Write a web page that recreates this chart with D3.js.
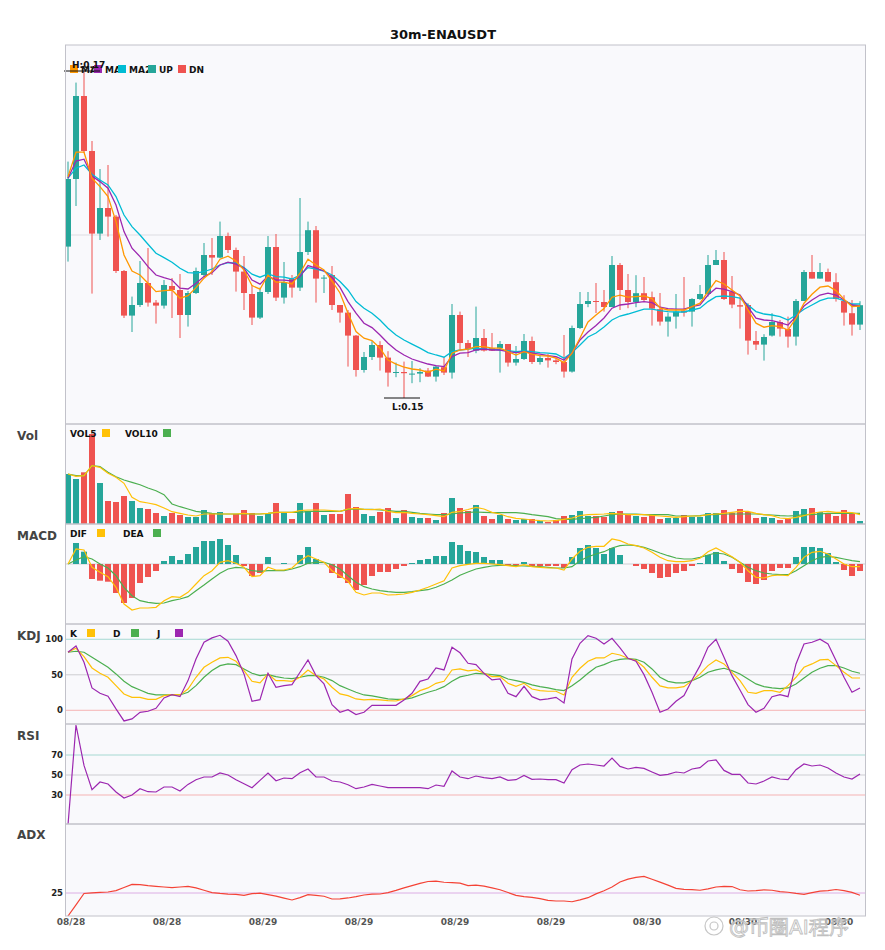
<!DOCTYPE html>
<html>
<head>
<meta charset="utf-8">
<script src="https://cdn.jsdelivr.net/npm/d3@7"></script>
<style>
  body { margin: 0; background: #fff; }
  svg text { font-family: "DejaVu Sans", sans-serif; }
</style>
</head>
<body>
<svg id="chart"></svg>
<script>
// 30m ENAUSDT candles
const open = [0.15942,0.16280,0.16695,0.16420,0.16007,0.16135,0.16092,0.15820,0.15597,0.15650,
  0.15760,0.15662,0.15647,0.15745,0.15725,0.15600,0.15710,0.15800,0.15900,0.15887,
  0.15995,0.15925,0.15817,0.15705,0.15587,0.15715,0.15940,0.15687,0.15780,0.15737,
  0.15915,0.16024,0.15782,0.15800,0.15650,0.15612,0.15497,0.15325,0.15390,0.15450,
  0.15387,0.15312,0.15315,0.15303,0.15307,0.15322,0.15292,0.15339,0.15312,0.15600,
  0.15460,0.15422,0.15485,0.15434,0.15434,0.15455,0.15362,0.15380,0.15470,0.15365,
  0.15385,0.15373,0.15365,0.15317,0.15535,0.15655,0.15670,0.15665,0.15640,0.15850,
  0.15725,0.15665,0.15709,0.15689,0.15629,0.15567,0.15592,0.15622,0.15617,0.15680,
  0.15705,0.15850,0.15875,0.15717,0.15649,0.15650,0.15470,0.15452,0.15497,0.15565,
  0.15530,0.15492,0.15670,0.15815,0.15782,0.15815,0.15764,0.15670,0.15609,0.15552]
const high = [0.16367,0.16762,0.16820,0.16470,0.16330,0.16350,0.16100,0.15825,0.15692,0.15870,
  0.15935,0.15675,0.15775,0.15785,0.15805,0.15720,0.15837,0.15960,0.15985,0.16067,
  0.16012,0.15937,0.15895,0.15750,0.15737,0.15995,0.16005,0.15865,0.15800,0.16185,
  0.16067,0.16045,0.15800,0.15845,0.15650,0.15625,0.15500,0.15415,0.15469,0.15469,
  0.15419,0.15362,0.15367,0.15370,0.15334,0.15335,0.15347,0.15389,0.15655,0.15617,
  0.15475,0.15642,0.15530,0.15510,0.15470,0.15455,0.15445,0.15505,0.15492,0.15400,
  0.15405,0.15392,0.15500,0.15547,0.15715,0.15715,0.15760,0.15725,0.15895,0.15860,
  0.15805,0.15799,0.15790,0.15717,0.15710,0.15612,0.15705,0.15790,0.15684,0.15750,
  0.15900,0.15925,0.15915,0.15795,0.15692,0.15659,0.15520,0.15504,0.15609,0.15575,
  0.15592,0.15680,0.15825,0.15900,0.15860,0.15832,0.15809,0.15699,0.15675,0.15669]
const low = [0.15867,0.16145,0.16410,0.15707,0.15975,0.15992,0.15810,0.15585,0.15515,0.15640,
  0.15642,0.15557,0.15632,0.15585,0.15485,0.15542,0.15705,0.15792,0.15800,0.15884,
  0.15910,0.15717,0.15625,0.15550,0.15580,0.15705,0.15670,0.15657,0.15687,0.15720,
  0.15900,0.15662,0.15710,0.15625,0.15562,0.15342,0.15292,0.15312,0.15375,0.15322,
  0.15242,0.15289,0.15185,0.15259,0.15264,0.15290,0.15267,0.15300,0.15282,0.15429,
  0.15390,0.15409,0.15417,0.15420,0.15312,0.15342,0.15347,0.15375,0.15355,0.15352,
  0.15337,0.15354,0.15287,0.15312,0.15530,0.15639,0.15610,0.15617,0.15640,0.15625,
  0.15634,0.15639,0.15667,0.15547,0.15547,0.15492,0.15532,0.15592,0.15542,0.15675,
  0.15692,0.15850,0.15675,0.15634,0.15532,0.15402,0.15425,0.15372,0.15492,0.15492,
  0.15437,0.15447,0.15670,0.15782,0.15782,0.15767,0.15667,0.15547,0.15497,0.15525]
const close = [0.16280,0.16695,0.16420,0.16007,0.16135,0.16092,0.15820,0.15597,0.15650,0.15760,
  0.15662,0.15647,0.15750,0.15725,0.15600,0.15710,0.15820,0.15900,0.15887,0.15995,
  0.15925,0.15817,0.15710,0.15587,0.15715,0.15940,0.15687,0.15765,0.15737,0.15915,
  0.16024,0.15782,0.15787,0.15650,0.15612,0.15497,0.15325,0.15390,0.15450,0.15387,
  0.15312,0.15315,0.15309,0.15307,0.15315,0.15292,0.15342,0.15312,0.15600,0.15460,
  0.15429,0.15485,0.15422,0.15422,0.15455,0.15362,0.15380,0.15470,0.15365,0.15385,
  0.15373,0.15365,0.15317,0.15535,0.15655,0.15670,0.15665,0.15640,0.15850,0.15725,
  0.15665,0.15709,0.15675,0.15632,0.15567,0.15592,0.15617,0.15612,0.15680,0.15705,
  0.15850,0.15875,0.15680,0.15652,0.15642,0.15472,0.15452,0.15490,0.15565,0.15532,
  0.15492,0.15670,0.15815,0.15782,0.15815,0.15767,0.15680,0.15612,0.15552,0.15649]

const ma5 = [0.16292,0.16414,0.16414,0.16284,0.16242,0.16192,0.16067,0.15900,0.15820,0.15800,
  0.15759,0.15717,0.15722,0.15725,0.15684,0.15697,0.15737,0.15784,0.15817,0.15879,
  0.15894,0.15870,0.15825,0.15747,0.15729,0.15800,0.15764,0.15764,0.15755,0.15809,
  0.15879,0.15850,0.15825,0.15770,0.15710,0.15609,0.15517,0.15484,0.15472,0.15434,
  0.15375,0.15354,0.15339,0.15330,0.15325,0.15314,0.15329,0.15320,0.15409,0.15425,
  0.15429,0.15442,0.15442,0.15434,0.15434,0.15417,0.15400,0.15417,0.15404,0.15397,
  0.15395,0.15384,0.15362,0.15409,0.15485,0.15565,0.15600,0.15632,0.15689,0.15699,
  0.15689,0.15692,0.15695,0.15682,0.15635,0.15625,0.15625,0.15625,0.15642,0.15659,
  0.15717,0.15772,0.15755,0.15725,0.15695,0.15625,0.15559,0.15539,0.15547,0.15542,
  0.15525,0.15584,0.15659,0.15704,0.15739,0.15745,0.15722,0.15679,0.15642,0.15645]
const ma10 = [0.16284,0.16370,0.16379,0.16295,0.16267,0.16234,0.16150,0.16017,0.15934,0.15892,
  0.15842,0.15800,0.15787,0.15775,0.15734,0.15730,0.15759,0.15792,0.15812,0.15850,
  0.15864,0.15854,0.15834,0.15775,0.15754,0.15795,0.15775,0.15774,0.15770,0.15792,
  0.15847,0.15834,0.15820,0.15788,0.15738,0.15667,0.15609,0.15559,0.15537,0.15500,
  0.15459,0.15425,0.15400,0.15380,0.15367,0.15355,0.15347,0.15342,0.15392,0.15409,
  0.15412,0.15425,0.15429,0.15425,0.15425,0.15417,0.15412,0.15417,0.15409,0.15404,
  0.15397,0.15392,0.15375,0.15409,0.15475,0.15515,0.15548,0.15585,0.15634,0.15650,
  0.15655,0.15662,0.15667,0.15662,0.15639,0.15632,0.15629,0.15629,0.15642,0.15650,
  0.15700,0.15734,0.15729,0.15717,0.15700,0.15639,0.15584,0.15575,0.15572,0.15562,
  0.15550,0.15592,0.15645,0.15675,0.15700,0.15709,0.15700,0.15675,0.15650,0.15645]
const ma20 = [0.16284,0.16334,0.16350,0.16304,0.16275,0.16250,0.16192,0.16100,0.16042,0.16000,
  0.15954,0.15909,0.15887,0.15864,0.15834,0.15812,0.15809,0.15817,0.15830,0.15850,
  0.15862,0.15859,0.15837,0.15804,0.15789,0.15805,0.15792,0.15789,0.15780,0.15800,
  0.15837,0.15830,0.15820,0.15800,0.15767,0.15725,0.15667,0.15634,0.15609,0.15575,
  0.15534,0.15500,0.15475,0.15454,0.15434,0.15412,0.15400,0.15389,0.15417,0.15425,
  0.15429,0.15434,0.15430,0.15429,0.15425,0.15422,0.15417,0.15420,0.15417,0.15412,
  0.15409,0.15405,0.15384,0.15412,0.15450,0.15490,0.15510,0.15540,0.15575,0.15595,
  0.15605,0.15617,0.15629,0.15629,0.15622,0.15617,0.15615,0.15615,0.15625,0.15634,
  0.15667,0.15692,0.15695,0.15692,0.15684,0.15650,0.15617,0.15605,0.15600,0.15592,
  0.15575,0.15600,0.15629,0.15650,0.15672,0.15684,0.15684,0.15672,0.15655,0.15655]

const volume = [50,45,51.7,90,41,23,22,28,23,16, 15,11,8,11,9,7,7,14,11,12,
  6,10,14,11,8,10,21,11,5,21, 13,21,9,10,10,30,17,10,8,12,
  16,6,14,7,6,6,4,11,26,16, 13,19,8,5,9,5,4,5,5,3,
  2,4,8,9,13,8,8,7,12,13, 10,8,7,9,5,6,6,9,7,7,
  11,11,14,11,15,12,6,7,6,4, 5,13,15,16,12,11,8,14,10,3]
const vol5 = [50,47.7,48.3,58.3,56.7,50.7,46.7,40.7,26.7,22.3, 21,19.3,16,12.3,10.7,9,8,10,10,10,
  10,10,10.7,10,10,10.7,11.7,11.7,11.7,13.3, 14,14,14,13.3,12.7,15,15.7,14.7,14.3,15,
  12.7,11.3,11.7,10.7,10,9.3,8.3,7.3,11.7,12.7, 14.5,16.7,15,11.7,10,7.3,5.7,5,4,3.3,
  3,3.3,4.7,6,8.3,9.3,9.7,10,10.7,10, 9.3,9.3,9.3,8.7,8,7.3,6.7,7.3,8,8,
  9.3,10,10.7,11.7,12.7,12.7,10.7,9.3,8.3,6, 5.3,6.7,8.3,10.7,12,12.7,11.7,11.7,11.3,9.3]
const vol10 = [50,48.3,48.3,58.3,57.3,51.7,47.3,44,41.7,39.3, 36,33.3,29.3,20,17.3,15,12.7,11.7,10.7,10,
  10,10,10,10,10,10.7,11.7,11.7,11.7,11.7, 12.7,12.7,12.7,12.7,12.7,14.7,15,14.7,14.7,14,
  13.3,12.7,12.7,11.7,10.7,10,9.3,9.3,10,11, 11.7,12,11.7,11.3,11.3,11.3,11.3,10.7,9.3,8.3,
  7.3,5.3,4.7,4.7,5.3,6,6.7,8,9.3,10, 10,10,9.3,9.3,9.3,9.3,8,8,8,8.3,
  9.3,9.3,10,10,10,10,10,9.3,9,8.3, 8,8.3,9.3,9.3,10,10.7,10.7,10.7,10.7,10.7]

// MACD values in units of 1e-5
const macdDif = [0,15,14,-3.3,-8.3,-12.7,-23.3,-40,-46,-44, -44,-43.3,-36.7,-32.7,-33.3,-28.3,-20,-11.7,-6.7,1.7,
  3.3,0.7,-3.3,-12.7,-11.7,-3.3,-6,-6,-4,3.3, 8.3,5,1.7,-6.7,-11.7,-17.3,-28.3,-31,-29,-29,
  -31,-30.7,-30,-28.3,-26,-23.3,-20,-16.7,-4,-1.7, -0.3,0.7,0.7,0,-0.7,-1.7,-2.7,-0.7,-2.7,-3.3,
  -4,-4,-6,5,12.7,16.7,17.7,17.7,25,23.3, 20,18.3,16,11.7,6.7,3.3,2.3,2.3,3.3,5.7,
  12.3,16,11.7,7.3,1.7,-6.7,-13.3,-14,-11.7,-11, -11.7,-3.3,6.7,11.7,12.7,10,5,0,-2.7,-2.7]
const macdDea = [0,4,7.3,5,0,-4,-11.7,-23.3,-31.7,-36.7, -38.3,-39.3,-39,-36.7,-35,-32.7,-26.7,-21,-15,-9.3,
  -5,-3.3,-4,-6.7,-7.3,-6.7,-6.7,-6.7,-5,-2.7, 0.7,1.7,1.7,-0.7,-5,-11.7,-18.3,-22.7,-25,-26.7,
  -27.7,-28.3,-28.3,-27.7,-26.7,-25.7,-23.3,-20,-16,-11.3, -8,-5,-3.3,-2,-1.3,-1.3,-1.7,-2,-2.3,-2.7,
  -3.3,-4,-4,-2.7,3.3,7.3,10,12.3,16,18.3, 19,18.3,16.7,14,11,8.3,6,5,5,6.7,
  9,11,10,6.7,1.7,-3.3,-6.7,-9,-10,-10.7, -10.7,-6.7,-1.7,3.3,6.7,7.7,6.7,5,3.3,2.3]
const macdHist = [0,21,12.3,-15,-16.7,-17.7,-29,-39,-34,-19, -13,-7,3,8,4,10,17,23,23,25,
  19,9,-2,-12,-9,7,0,1,0,9, 17,5,0,-9,-14,-19,-26,-21,-12,-8,
  -8,-5,-2,1,4,5,8,8,22,19, 13,12,7,4,4,-1.3,-2,2,-2,-2,
  -2,-2,-4,7,16,19,16,10,16,9, 0,-2,-5,-9,-14,-13,-9,-7,-2,1,
  9,12,3,-5,-9,-18,-20,-16,-7,-4, -4,7,17,17,16,11,2,-6,-12,-7]

const kdjK = [81.7,87.3,75.6,59.6,52.1,46.5,34.7,23,18.3,18.3, 15.5,15.5,20.7,22.1,21.6,30,46.5,60.6,67.6,73.7,
  74.6,69,55.9,40.8,38.5,51.2,41.8,41.8,40.8,46.5, 56.8,48.8,44.1,32.4,23,20.7,16,14.6,15.5,14.6,
  13.6,13.1,16,20.7,27.7,31.5,38,40.8,56.8,58.2, 55.4,56.8,52.1,47.4,47.4,38,33.8,38,30,27.7,
  26.8,26.8,21.6,46.5,59.2,69,73.7,73.7,80.3,77.9, 73.2,70,60.6,46.5,34.3,31.5,31.5,33.3,41.8,51.2,
  62.9,70.9,65.3,53.5,41.8,25.4,23.9,27.7,27.7,25.4, 34.7,46.5,60.6,65.3,70.9,71.8,62.9,53.5,45.5,45.5]
const kdjD = [81.7,83.1,81.7,74.6,67.6,60.6,51.2,40.8,33.3,28.6, 23.9,21.6,21.6,21.6,21.6,25.4,34.7,46.5,55.9,62.9,
  65.3,64.3,58.2,52.1,48.8,50.2,47.4,45.5,44.6,46.5, 48.8,48.8,46.5,41.8,34.7,30,25.4,21.6,20.2,18.3,
  16,15.5,15.5,17.4,21.6,25.4,28.6,33.3,40.8,47, 49.3,52.1,51.2,50.2,48.8,44.1,41.8,39.4,35.7,33.3,
  31.5,29.1,27.7,34.7,42.7,52.1,60.6,64.3,69,71.8, 72.8,71.8,67.6,58.2,46.5,40.8,38.5,38.5,41.8,46.5,
  53.5,56.8,59.2,55.9,51.2,44.1,37.1,33.3,31.5,30.5, 31.5,37.1,45.5,53.5,59.2,62.9,62.9,59.6,54.9,52.1]
const kdjJ = [81.7,90.6,67.6,31.5,23.9,19.7,1.9,-15,-12.2,-2.8, -1.4,2.8,17.4,22.1,19.2,41.8,72.3,95.8,101.9,105.6,
  97.2,77,51.2,12.7,15,52.1,32.4,34.7,36.2,53.5, 70.9,48.8,37.1,8,-2.8,0.9,-6.1,-2.8,7,7,
  7,7,14.6,23.9,40.8,44.1,59.6,56.8,88.7,81, 66.2,64.3,52.1,42.7,44.1,23.9,19.2,33.8,19.2,14.6,
  16,18.3,10.3,72.3,94.4,105.2,101.4,93.4,101.4,87.8, 73.2,69,50.2,25.4,-2.8,1.9,12.7,20.7,42.7,62.9,
  88.7,100,74.6,48.8,28.6,8,-2.8,2.8,19.2,22.1, 19.2,65.3,93.4,95.8,100,93.4,70,46.5,25.4,31.5]

const rsi = [0,100,59.6,35.3,43,41,33,27,30,36.3, 33.3,33,38,38,34,40.6,45.3,48,48,52,
  50,45.3,41.3,37.3,44.6,52,44.3,47,46.3,52.3, 56,48,48,44,43,40.3,36.3,38,40.6,39,
  37.3,37.3,37.3,37.3,37.3,36.3,40,38.6,54,48, 46.3,49,47.3,46.3,48,44.6,45.3,49.6,45.6,46,
  45.3,45.3,42,55.3,60,61,60,59,67,58.6, 56,57.6,56.6,53,49.6,50.6,53,52,56,57.3,
  64,65,54.6,50.6,50.6,42,41,44,48,46, 45.3,55.3,61,59,60,57,52,48,46,51]

const adx = [0,12,24.5,25.2,25.6,26.1,27.6,31,34.4,34.1, 33,32.2,31.5,30.8,31.5,32.2,30.5,28,25.4,24.5,
  23.8,23.5,22.5,24.3,24.8,23.2,21.6,19.5,17.4,20, 23.2,22.5,21.5,18.5,18.6,19.6,21,22.8,23.7,23.9,
  25.5,27.8,30.5,33,35.5,37.5,37.8,36.7,36.3,35.8, 33,33.5,32.5,30.6,28.5,25.5,22.5,21,20.3,18.8,
  17,16.3,16.3,15.5,17.5,19.9,24,27.5,31.5,37, 40,42,43.1,40,36.8,33.5,30,29,28.6,28,
  29.5,31.5,32.3,32,28.5,27.2,27.5,28.5,28,26.4, 25.8,24.5,23.6,25.5,27,27.5,28.8,27.5,25.7,22.5]

const xTickIdx = [0, 12, 24, 36, 48, 60, 72, 84, 96]
const xTickLabels = ['08/28', '08/28', '08/29', '08/29', '08/29', '08/29', '08/30', '08/30', '08/30']
const priceGrid = [0.16]
const kdjTicks = [100, 50, 0]
const rsiTicks = [70, 50, 30]
const adxTicks = [25]

const UP = '#26a69a', DN = '#ef5350'
const YEL = '#ffc107', GRN = '#4caf50', PUR = '#9c27b0'

const W = 885, H = 950
const left = 65.5, right = 865.5
const panels = {
  main: {top: 45, bottom: 424},
  vol: {top: 424, bottom: 524},
  macd: {top: 524, bottom: 624},
  kdj: {top: 624, bottom: 724},
  rsi: {top: 724, bottom: 824},
  adx: {top: 824, bottom: 916}
}
const n = close.length
const idx = d3.range(n)
const x = d3.scaleLinear().domain([0, n - 1]).range([68, 860])
const bw = 6

const yPrice = d3.scaleLinear().domain([0.15055, 0.1695]).range([424, 45])
const yVol = d3.scaleLinear().domain([0, 100]).range([524, 424])
const yMacd = d3.scaleLinear().domain([-60, 40]).range([624, 524])
const yKdj = d3.scaleLinear().domain([-19.3, 121.5]).range([724, 624])
const yRsi = d3.scaleLinear().domain([0, 100]).range([825, 725])
const yAdx = d3.scaleLinear().domain([0, 100]).range([916, 824])

const svg = d3.select('#chart').attr('width', W).attr('height', H)
svg.append('rect').attr('width', W).attr('height', H).attr('fill', '#fff')

svg.append('text').attr('x', 443).attr('y', 39).attr('text-anchor', 'middle')
   .attr('font-size', 13).attr('font-weight', 'bold').attr('fill', '#111').text('30m-ENAUSDT')

const defs = svg.append('defs')
const g = {}
Object.entries(panels).forEach(([k, p]) => {
  svg.append('rect').attr('x', left).attr('y', p.top).attr('width', right - left)
     .attr('height', p.bottom - p.top).attr('fill', '#f9f9fc')
  defs.append('clipPath').attr('id', 'clip-' + k).append('rect')
      .attr('x', left).attr('y', p.top).attr('width', right - left).attr('height', p.bottom - p.top)
  g[k] = svg.append('g').attr('clip-path', 'url(#clip-' + k + ')')
})

function hline(grp, y, color) {
  grp.append('line').attr('x1', left).attr('x2', right).attr('y1', y).attr('y2', y)
     .attr('stroke', color).attr('stroke-width', 1)
}
function drawLine(grp, values, yScale, color, w) {
  grp.append('path').datum(values)
     .attr('fill', 'none').attr('stroke', color).attr('stroke-width', w || 1.3)
     .attr('d', d3.line().x((d, i) => x(i)).y(d => yScale(d)))
}
function tickLabels(values, yScale) {
  values.forEach(v => {
    svg.append('text').attr('x', 63).attr('y', yScale(v) + 3).attr('text-anchor', 'end')
       .attr('font-size', 8.5).attr('font-weight', 'bold').attr('fill', '#222').text(v)
  })
}

// price panel
priceGrid.forEach(v => hline(g.main, yPrice(v), '#dddde2'))
const isUp = i => close[i] >= open[i]
g.main.selectAll('line.wick').data(idx).join('line')
  .attr('x1', i => x(i)).attr('x2', i => x(i))
  .attr('y1', i => yPrice(high[i])).attr('y2', i => yPrice(low[i]))
  .attr('stroke', i => isUp(i) ? UP : DN).attr('stroke-width', 1)
g.main.selectAll('rect.body').data(idx).join('rect')
  .attr('x', i => x(i) - bw / 2).attr('width', bw)
  .attr('y', i => yPrice(Math.max(open[i], close[i])))
  .attr('height', i => Math.max(1, Math.abs(yPrice(open[i]) - yPrice(close[i]))))
  .attr('fill', i => isUp(i) ? UP : DN)
drawLine(g.main, ma20, yPrice, '#00bcd4')
drawLine(g.main, ma10, yPrice, PUR)
drawLine(g.main, ma5, yPrice, '#ff9800')

// main legend: each label is cut off where the next swatch starts
const mainLegend = [
  {label: 'MA5', color: '#ff9800', x: 70}, {label: 'MA10', color: PUR, x: 94},
  {label: 'MA20', color: '#00bcd4', x: 118}, {label: 'UP', color: UP, x: 148},
  {label: 'DN', color: DN, x: 178}
]
mainLegend.forEach((d, k) => {
  const next = mainLegend[k + 1]
  const tx = d.x + 11
  const cw = next ? next.x - tx : 40
  defs.append('clipPath').attr('id', 'leg-' + k).append('rect')
      .attr('x', tx).attr('y', 58).attr('width', cw).attr('height', 20)
  svg.append('rect').attr('x', d.x).attr('y', 65).attr('width', 8).attr('height', 8).attr('fill', d.color)
  svg.append('text').attr('x', tx).attr('y', 72.5).attr('font-size', 9)
     .attr('clip-path', 'url(#leg-' + k + ')')
     .attr('font-weight', 'bold').attr('fill', '#111').text(d.label)
})

// high / low markers
const hi = d3.maxIndex(high), lo = d3.minIndex(low)
svg.append('line').attr('x1', x(hi) - 20).attr('x2', x(hi) + 16)
   .attr('y1', yPrice(high[hi])).attr('y2', yPrice(high[hi])).attr('stroke', '#111').attr('stroke-width', 1)
svg.append('text').attr('x', x(hi) - 12).attr('y', yPrice(high[hi]) - 3).attr('font-size', 9)
   .attr('font-weight', 'bold').attr('fill', '#111').text('H:' + high[hi].toFixed(2))
svg.append('line').attr('x1', x(lo) - 20).attr('x2', x(lo) + 16)
   .attr('y1', yPrice(low[lo])).attr('y2', yPrice(low[lo])).attr('stroke', '#111').attr('stroke-width', 1)
svg.append('text').attr('x', x(lo) - 12).attr('y', yPrice(low[lo]) + 12).attr('font-size', 9)
   .attr('font-weight', 'bold').attr('fill', '#111').text('L:' + low[lo].toFixed(2))

// volume
g.vol.selectAll('rect').data(idx).join('rect')
  .attr('x', i => x(i) - bw / 2).attr('width', bw)
  .attr('y', i => yVol(volume[i])).attr('height', i => yVol(0) - yVol(volume[i]))
  .attr('fill', i => isUp(i) ? UP : DN)
drawLine(g.vol, vol10, yVol, GRN, 1.2)
drawLine(g.vol, vol5, yVol, YEL, 1.2)

// macd
hline(g.macd, yMacd(0), '#cfcfd4')
g.macd.selectAll('rect').data(idx).join('rect')
  .attr('x', i => x(i) - bw / 2).attr('width', bw)
  .attr('y', i => yMacd(Math.max(0, macdHist[i])))
  .attr('height', i => Math.abs(yMacd(macdHist[i]) - yMacd(0)))
  .attr('fill', i => macdHist[i] >= 0 ? UP : DN)
drawLine(g.macd, macdDea, yMacd, GRN, 1.2)
drawLine(g.macd, macdDif, yMacd, YEL, 1.2)

// kdj
const guideColor = {100: '#a6d9d2', 70: '#a6d9d2', 50: '#cdcdd2', 30: '#f5b3b3', 0: '#f5b3b3', 25: '#dcaee4'}
kdjTicks.forEach(v => hline(g.kdj, yKdj(v), guideColor[v]))
drawLine(g.kdj, kdjD, yKdj, GRN, 1.2)
drawLine(g.kdj, kdjK, yKdj, YEL, 1.2)
drawLine(g.kdj, kdjJ, yKdj, PUR, 1.2)
tickLabels(kdjTicks, yKdj)

// rsi
rsiTicks.forEach(v => hline(g.rsi, yRsi(v), guideColor[v]))
drawLine(g.rsi, rsi, yRsi, PUR, 1.2)
tickLabels(rsiTicks, yRsi)

// adx
adxTicks.forEach(v => hline(g.adx, yAdx(v), guideColor[v]))
drawLine(g.adx, adx, yAdx, '#f44336', 1.2)
tickLabels(adxTicks, yAdx)

// panel borders
Object.values(panels).forEach(p => {
  svg.append('rect').attr('x', left).attr('y', p.top).attr('width', right - left)
     .attr('height', p.bottom - p.top).attr('fill', 'none').attr('stroke', '#c2c2ca')
})

// panel titles and legends
const titles = [['Vol', 440], ['MACD', 540], ['KDJ', 640], ['RSI', 740], ['ADX', 839]]
titles.forEach(([t, y]) => {
  svg.append('text').attr('x', 17).attr('y', y).attr('font-size', 12)
     .attr('font-weight', 'bold').attr('fill', '#444').text(t)
})
const subLegends = [
  {y: 437, items: [['VOL5', YEL, 70, 102], ['VOL10', GRN, 125, 163]]},
  {y: 537, items: [['DIF', YEL, 70, 97], ['DEA', GRN, 123, 153]]},
  {y: 637, items: [['K', YEL, 70, 87], ['D', GRN, 113, 131], ['J', PUR, 157, 175]]}
]
subLegends.forEach(l => {
  l.items.forEach(([t, c, tx, sx]) => {
    svg.append('text').attr('x', tx).attr('y', l.y).attr('font-size', 9)
       .attr('font-weight', 'bold').attr('fill', '#111').text(t)
    svg.append('rect').attr('x', sx).attr('y', l.y - 8).attr('width', 8).attr('height', 8).attr('fill', c)
  })
})

// x axis labels
xTickIdx.forEach((i, k) => {
  svg.append('text').attr('x', x(i) + 3).attr('y', 925).attr('text-anchor', 'middle')
     .attr('font-size', 9).attr('font-weight', 'bold').attr('fill', '#555').text(xTickLabels[k])
})

// watermark
const wm = svg.append('g').attr('opacity', 0.85)
wm.append('circle').attr('cx', 714).attr('cy', 926).attr('r', 9).attr('fill', 'none').attr('stroke', '#bdbdbd').attr('stroke-width', 1.2)
wm.append('circle').attr('cx', 714).attr('cy', 926).attr('r', 4).attr('fill', 'none').attr('stroke', '#bdbdbd').attr('stroke-width', 1.2)
wm.append('text').attr('x', 729).attr('y', 934).attr('font-size', 20)
  .attr('font-family', '"Noto Sans CJK SC", sans-serif')
  .attr('fill', '#fff').attr('stroke', '#b5b5b5').attr('stroke-width', 0.9).text('@币圈AI程序')
</script>
</body>
</html>
